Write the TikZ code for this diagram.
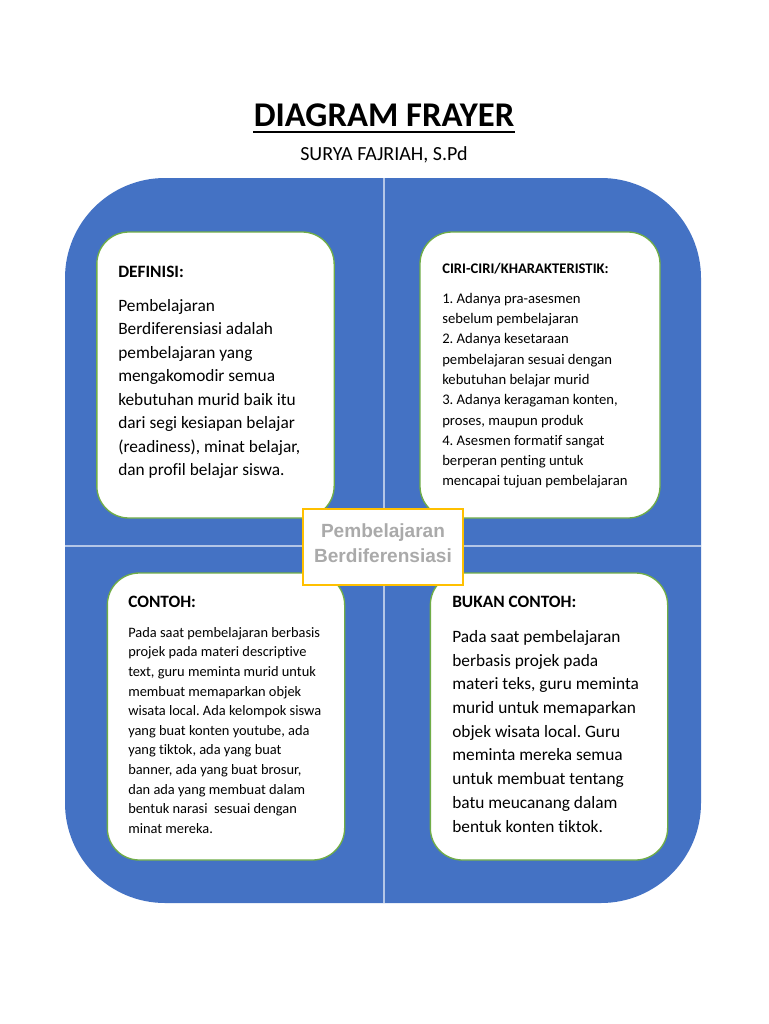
\documentclass[tikz,border=0pt]{standalone}
\usepackage{fontspec}
\setmainfont{Carlito}[Ligatures={NoCommon}]
\newfontfamily\arialfont{Liberation Sans}
\usepackage{xcolor}
\usetikzlibrary{positioning}
\definecolor{frayblue}{RGB}{68, 114, 196}
\definecolor{fraygreen}{RGB}{112, 173, 71}
\definecolor{fraygold}{RGB}{255, 192, 0}
\definecolor{fraygray}{RGB}{170, 170, 170}
\frenchspacing

\begin{document}
\begin{tikzpicture}[
        x=0.75pt, y=-0.75pt,
        quadbox/.style={rectangle, rounded corners=24pt, draw=fraygreen, line width=1pt, fill=white, minimum width=178pt, minimum height=214.5pt},
        headtxt/.style={anchor=base west, inner sep=0pt, font=\bfseries\fontsize{13}{16}\selectfont},
        bodytxt/.style={anchor=north west, inner sep=0pt, align=left},
        divline/.style={draw=white, opacity=0.6, line width=0.8pt}
    ]
        \useasboundingbox[fill=white] (0,0) rectangle (768,1024);
        \node[inner sep=0pt, anchor=base, font=\bfseries\fontsize{26}{30}\selectfont] (title) at (384,127) {DIAGRAM FRAYER};
        \draw[line width=1.6pt] ([yshift=-3.5pt]title.base west) -- ([yshift=-3.5pt]title.base east);
        \node[inner sep=0pt, anchor=base, font=\fontsize{15}{18}\selectfont] (author) at (384,160) {SURYA FAJRIAH, S.Pd};
        \fill[frayblue, rounded corners=75pt] (65,178) rectangle (701,903);
        \draw[divline] (384,178) -- (384,903);
        \draw[divline] (65,546) -- (701,546);
        \node[quadbox] (defbox) at (215.5,375) {};
        \node[quadbox, minimum width=180pt] (cirbox) at (540,375) {};
        \node[quadbox, minimum height=215.25pt] (conbox) at (226,716.5) {};
        \node[quadbox, minimum height=215.25pt] (bukbox) at (549,716.5) {};
        \node[rectangle, draw=fraygold, line width=0.9pt, fill=white, minimum width=120pt, minimum height=57pt] (centre) at (383,547) {};
        \node[align=center, inner sep=0pt, text=fraygray, font=\arialfont\bfseries\fontsize{14.3}{19}\selectfont] (centretxt) at ([yshift=3pt]centre.center) {Pembelajaran\\Berdiferensiasi};
        \node[headtxt] (defhead) at (118,277) {DEFINISI:};
        \node[bodytxt, font=\fontsize{13}{17.6}\selectfont] (deftext) at (118,299) {Pembelajaran\\Berdiferensiasi adalah\\pembelajaran yang\\mengakomodir semua\\kebutuhan murid baik itu\\dari segi kesiapan belajar\\(readiness), minat belajar,\\dan profil belajar siswa.};
        \node[headtxt, font=\bfseries\fontsize{11}{14}\selectfont] (cirhead) at (442,273) {CIRI-CIRI/KHARAKTERISTIK:};
        \node[bodytxt, font=\fontsize{11}{15.2}\selectfont] (cirtext) at (442,293) {1. Adanya pra-asesmen\\sebelum pembelajaran\\2. Adanya kesetaraan\\pembelajaran sesuai dengan\\kebutuhan belajar murid\\3. Adanya keragaman konten,\\proses, maupun produk\\4. Asesmen formatif sangat\\berperan penting untuk\\mencapai tujuan pembelajaran};
        \node[headtxt] (conhead) at (128,607) {CONTOH:};
        \node[bodytxt, font=\fontsize{10.8}{14.7}\selectfont] (context) at (128,627) {Pada saat pembelajaran berbasis\\projek pada materi descriptive\\text, guru meminta murid untuk\\membuat memaparkan objek\\wisata local. Ada kelompok siswa\\yang buat konten youtube, ada\\yang tiktok, ada yang buat\\banner, ada yang buat brosur,\\dan ada yang membuat dalam\\bentuk narasi\ \ sesuai dengan\\minat mereka.};
        \node[headtxt] (bukhead) at (452,607) {BUKAN CONTOH:};
        \node[bodytxt, font=\fontsize{13}{17.8}\selectfont] (buktext) at (452,630) {Pada saat pembelajaran\\berbasis projek pada\\materi teks, guru meminta\\murid untuk memaparkan\\objek wisata local. Guru\\meminta mereka semua\\untuk membuat tentang\\batu meucanang dalam\\bentuk konten tiktok.};
    \end{tikzpicture}
\end{document}
